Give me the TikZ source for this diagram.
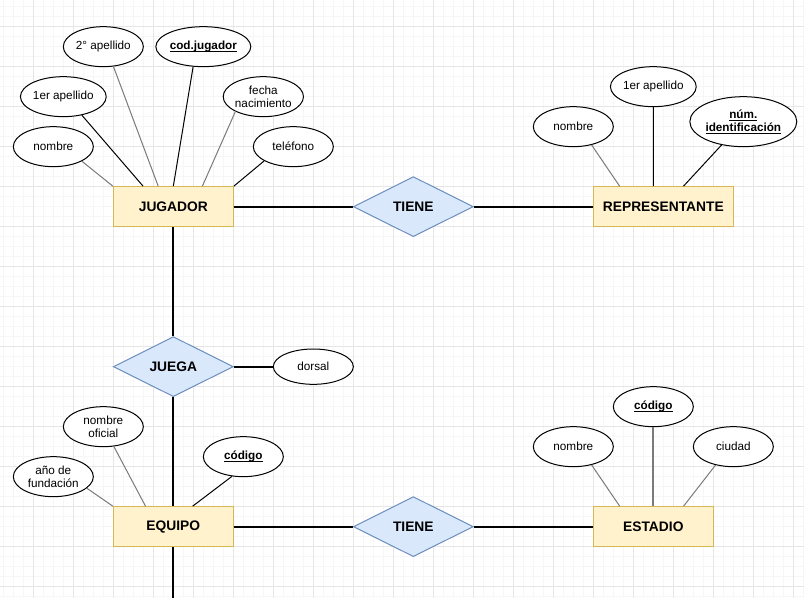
\documentclass[tikz,border=0pt]{standalone}
\usepackage{fontspec}
\setmainfont{Liberation Sans}
\usetikzlibrary{shapes.geometric,calc}
\definecolor{entfill}{HTML}{FFF2CC}
\definecolor{entdraw}{HTML}{D6B656}
\definecolor{relfill}{HTML}{DAE8FC}
\definecolor{reldraw}{HTML}{6C8EBF}
\definecolor{gridminor}{HTML}{F6F6F6}
\definecolor{gridmajor}{HTML}{E6E6E6}
\definecolor{attgray}{HTML}{7A7A7A}
\newsavebox\ulbox
\newcommand\ulx[1]{\sbox\ulbox{#1}\rlap{\vrule width\wd\ulbox height -1.1pt depth 1.8pt}\usebox\ulbox}
\tikzset{
  entity/.style={rectangle, draw=entdraw, fill=entfill, line width=0.75pt,
    minimum width=90pt, minimum height=30pt, inner sep=0pt,
    font=\fontsize{10.35pt}{12pt}\selectfont\bfseries},
  relation/.style={diamond, draw=reldraw, fill=relfill, line width=0.75pt,
    aspect=2, minimum width=90pt, minimum height=45pt, inner sep=0pt,
    font=\fontsize{10.35pt}{12pt}\selectfont\bfseries},
  attr/.style={ellipse, draw=black, fill=white, line width=0.75pt,
    minimum width=60pt, minimum height=30pt, inner sep=0pt, align=center,
    font=\fontsize{8.8pt}{10pt}\selectfont},
  mainline/.style={draw=black, line width=1.5pt},
  blackline/.style={draw=black, line width=0.75pt},
  grayline/.style={draw=attgray, line width=0.75pt},
}
\begin{document}
\begin{tikzpicture}[x=0.75pt,y=-0.75pt]
\useasboundingbox (0,0) rectangle (804,598);
\fill[white] (0,0) rectangle (804,598);
% grid
\foreach \gx in {3.33,13.33,...,804} {\draw[gridminor,line width=0.6pt] (\gx,0) -- (\gx,598);}
\foreach \gy in {6.67,16.67,...,598} {\draw[gridminor,line width=0.6pt] (0,\gy) -- (804,\gy);}
\foreach \gx in {33.33,73.33,...,804} {\draw[gridmajor,line width=0.6pt] (\gx,0) -- (\gx,598);}
\foreach \gy in {26.67,66.67,...,598} {\draw[gridmajor,line width=0.6pt] (0,\gy) -- (804,\gy);}

% main nodes
\node[entity] (jug) at (173.33,206.67) {JUGADOR};
\node[relation] (tiene1) at (413.33,206.67) {TIENE};
\node[entity, minimum width=105pt] (rep) at (663.33,206.67) {REPRESENTANTE};
\node[relation] (juega) at (173.33,366.67) {JUEGA};
\node[attr, minimum height=26.5pt] (dorsal) at (313.33,366.67) {dorsal};
\node[entity] (equ) at (173.33,526.67) {EQUIPO};
\node[relation] (tiene2) at (413.33,526.67) {TIENE};
\node[entity] (est) at (653.33,526.67) {ESTADIO};
\coordinate (bottom) at (173.33,598);

% main connectors
\draw[mainline] (jug.east) -- (tiene1.west);
\draw[mainline] (tiene1.east) -- (rep.west);
\draw[mainline] (jug.south) -- (juega.north);
\draw[mainline] (juega.east) -- (dorsal.west);
\draw[mainline] (juega.south) -- (equ.north);
\draw[mainline] (equ.east) -- (tiene2.west);
\draw[mainline] (tiene2.east) -- (est.west);
\draw[mainline] (equ.south) -- (bottom);

% JUGADOR attributes
\node[attr] (jnom) at (53.33,146.67) {nombre};
\node[attr] (jap1) at (63.33,96.67) {1er apellido};
\node[attr] (jap2) at (103.33,46.67) {2° apellido};
\node[attr] (jcod) at (203.33,46.67) {\textbf{\ulx{cod.jugador}}};
\node[attr] (jfec) at (263.33,96.67) {fecha\\nacimiento};
\node[attr] (jtel) at (293.33,146.67) {teléfono};
\draw[grayline] (jnom.-27) -- (jug.north west);
\draw[blackline] (jap1.-45) -- ($(jug.north west)!0.25!(jug.north east)$);
\draw[grayline] (jap2.-63) -- ($(jug.north west)!0.375!(jug.north east)$);
\draw[blackline] (jcod.-117) -- (jug.north);
\draw[grayline] (jfec.-152) -- ($(jug.north west)!0.74!(jug.north east)$);
\draw[blackline] (jtel.-154) -- (jug.north east);

% REPRESENTANTE attributes
\node[attr] (rnom) at (573.33,126.67) {nombre};
\node[attr] (rap1) at (653.33,86.67) {1er apellido};
\node[attr, minimum width=75pt, minimum height=37.5pt] (rnum) at (743.33,121.67) {\textbf{\ulx{núm.}}\\\textbf{\ulx{identificación}}};
\draw[grayline] (rnom.-45) -- ($(rep.north west)!0.19!(rep.north east)$);
\draw[blackline] (rap1.south) -- ($(rep.north west)!0.4286!(rep.north east)$);
\draw[blackline] (rnum.-133) -- ($(rep.north west)!0.643!(rep.north east)$);

% EQUIPO attributes
\node[attr] (enof) at (103.33,426.67) {nombre\\oficial};
\node[attr] (eano) at (53.33,476.67) {año de\\fundación};
\node[attr] (ecod) at (243.33,456.67) {\textbf{\ulx{código}}};
\draw[grayline] (eano.-19) -- (equ.north west);
\draw[grayline] (enof.-62) -- ($(equ.north west)!0.27!(equ.north east)$);
\draw[blackline] (ecod.-120) -- ($(equ.north west)!0.66!(equ.north east)$);

% ESTADIO attributes
\node[attr] (scod) at (653.33,406.67) {\textbf{\ulx{código}}};
\node[attr] (snom) at (573.33,446.67) {nombre};
\node[attr] (sciu) at (733.33,446.67) {ciudad};
\draw[grayline] (snom.-45) -- ($(est.north west)!0.222!(est.north east)$);
\draw[grayline, line width=1.3pt] (scod.south) -- (est.north);
\draw[grayline] (sciu.-134) -- ($(est.north west)!0.75!(est.north east)$);
\end{tikzpicture}
\end{document}
